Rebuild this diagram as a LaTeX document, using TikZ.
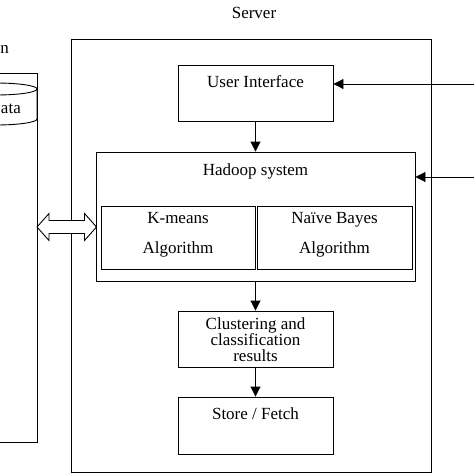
\documentclass[tikz,border=0pt]{standalone}
\usepackage{fontspec}
\setmainfont{Liberation Serif}
\usetikzlibrary{arrows.meta}
\begin{document}
\begin{tikzpicture}[x={(1pt,0)},y={(0,-1pt)},
  box/.style={draw,line width=0.9pt,rectangle,inner sep=0pt},
  txt/.style={font=\fontsize{17}{17}\selectfont,inner sep=0pt,anchor=base},
  arr/.style={line width=0.9pt,-{Triangle[length=10pt,width=10pt]}}]
\useasboundingbox (0,0) rectangle (474,474);
\clip (0,0) rectangle (474,474);
% left (client) box and cylinder
\draw[line width=0.9pt] (-20,73) -- (37,73) -- (37,442) -- (-20,442);
\draw[line width=0.9pt] (-45,89) -- (-45,119) arc[start angle=180,end angle=0,x radius=41,y radius=6]
  -- (37,89);
\draw[line width=0.9pt] (-4,89) ellipse[x radius=41,y radius=6];
\node[txt,anchor=base west] (clientlbl) at (0.3,53) {n};
\node[txt,anchor=base east] (datalbl) at (21,113) {ata};
% server
\node[box,minimum width=360pt,minimum height=433pt] (server) at (251,255.5) {};
\node[txt] (serverlbl) at (254,18.5) {Server};
% user interface
\node[box,minimum width=155pt,minimum height=56pt] (ui) at (255.5,93) {};
\node[txt] (uilbl) at (255.5,87) {User Interface};
% hadoop
\node[box,minimum width=319pt,minimum height=129pt] (hadoop) at (255.5,216.5) {};
\node[txt] (hadooplbl) at (255.5,175) {Hadoop system};
\node[box,minimum width=154pt,minimum height=63pt] (km) at (178,237.5) {};
\node[txt] (kmlbl1) at (178,223) {K-means};
\node[txt] (kmlbl2) at (178,253) {Algorithm};
\node[box,minimum width=155pt,minimum height=63pt] (nb) at (334.5,237.5) {};
\node[txt] (nblbl1) at (334.5,223) {Naïve Bayes};
\node[txt] (nblbl2) at (334.5,253) {Algorithm};
% results
\node[box,minimum width=155pt,minimum height=56pt] (res) at (255.5,339) {};
\node[font=\fontsize{17}{16}\selectfont,inner sep=0pt,align=center] (reslbl) at (255.5,339.5) {Clustering and\\classification\\results};
\node[box,minimum width=155pt,minimum height=57pt] (store) at (255.5,425.5) {};
\node[txt] (storelbl) at (255.5,419) {Store / Fetch};
% connectors
\draw[arr] (ui.south) -- (hadoop.north);
\draw[arr] (hadoop.south) -- (res.north);
\draw[arr] (res.south) -- (store.north);
\coordinate (in1) at (480,84);
\coordinate (in2) at (480,177);
\draw[arr] (in1) -- (in1 -| ui.east);
\draw[arr] (in2) -- (in2 -| hadoop.east);
% double hollow arrow
\draw[line width=0.9pt,fill=white] (37,227) -- (49,213.5) -- (49,220.5) -- (84.5,220.5) -- (84.5,213.5)
  -- (96.5,227) -- (84.5,240.5) -- (84.5,233.5) -- (49,233.5) -- (49,240.5) -- cycle;
\end{tikzpicture}
\end{document}
